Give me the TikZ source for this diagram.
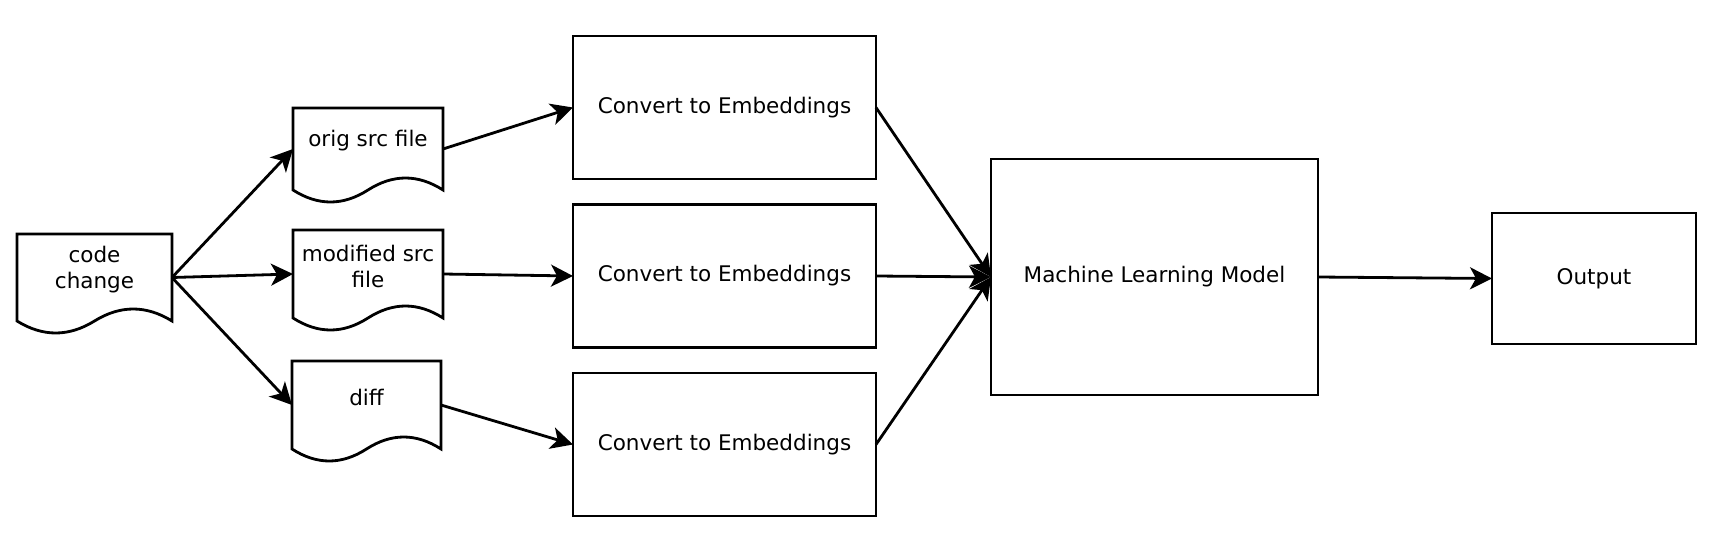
\documentclass[tikz,border=0pt]{standalone}
\usepackage{fontspec}
\setmainfont{DejaVu Sans}
\usetikzlibrary{arrows.meta, positioning, calc}
\tikzstyle{process} = [rectangle, draw=black, line width=2.8pt, outer sep=0pt, text centered, font=\fontsize{21.5}{26}\selectfont]
\tikzstyle{doc} = [rectangle, inner sep=0pt, outer sep=0pt]
\tikzstyle{doctext} = [align=center, yshift=8pt, font=\fontsize{21.5}{26}\selectfont]
\tikzstyle{docline} = [line width=2.8pt, line join=miter]
\tikzstyle{arrow} = [line width=2.8pt, -{Stealth[length=22pt, width=22pt, inset=6pt]}]
% outline of a document shape with a wavy bottom edge
\newcommand{\docoutline}[1]{%
  \draw[docline] (#1.south west) -- (#1.north west) -- (#1.north east) -- (#1.south east)
    .. controls ($(#1.south east)!1/3!(#1.south)+(0,-16)$) and ($(#1.south east)!2/3!(#1.south)+(0,-16)$) .. (#1.south)
    .. controls ($(#1.south)!1/3!(#1.south west)+(0,16)$) and ($(#1.south)!2/3!(#1.south west)+(0,16)$) .. (#1.south west) -- cycle;}

\begin{document}
\begin{tikzpicture}[x=1pt, y=-1pt, node distance=168.5pt]
    \useasboundingbox (0,0) rectangle (1711,546);

    \node (code) [doc, minimum width=155pt, minimum height=87pt, label={[doctext]center:code\\change}] at (94.5,277.5) {};
    \node (orig) [doc, minimum width=150pt, minimum height=82pt, label={[doctext]center:orig src file}] at (368,149) {};
    \node (modified) [doc, minimum width=150pt, minimum height=88pt, label={[doctext]center:modified src\\file}] at (368,274) {};
    \node (diff) [doc, minimum width=149pt, minimum height=88pt, label={[doctext]center:diff}] at (366.5,405) {};
    \docoutline{code}
    \docoutline{orig}
    \docoutline{modified}
    \docoutline{diff}

    \node (embed1) [process, minimum width=303pt, minimum height=143pt] at (724.5,107.5) {Convert to Embeddings};
    \node (embed2) [process, minimum width=303pt, minimum height=143pt, below of=embed1] {Convert to Embeddings};
    \node (embed3) [process, minimum width=303pt, minimum height=143pt, below of=embed2] {Convert to Embeddings};
    \node (model) [process, minimum width=327pt, minimum height=236pt] at (1154.5,277) {Machine Learning Model};
    \node (output) [process, minimum width=204pt, minimum height=131pt] at (1594,278.5) {Output};

    \draw [arrow] (code.east) -- (orig.west);
    \draw [arrow] (code.east) -- (modified.west);
    \draw [arrow] (code.east) -- (diff.west);
    \draw [arrow] (orig.east) -- (embed1.west);
    \draw [arrow] (modified.east) -- (embed2.west);
    \draw [arrow] (diff.east) -- (embed3.west);
    \draw [arrow] (embed1.east) -- (model.west);
    \draw [arrow] (embed2.east) -- (model.west);
    \draw [arrow] (embed3.east) -- (model.west);
    \draw [arrow] (model.east) -- (output.west);
  \end{tikzpicture}
\end{document}
